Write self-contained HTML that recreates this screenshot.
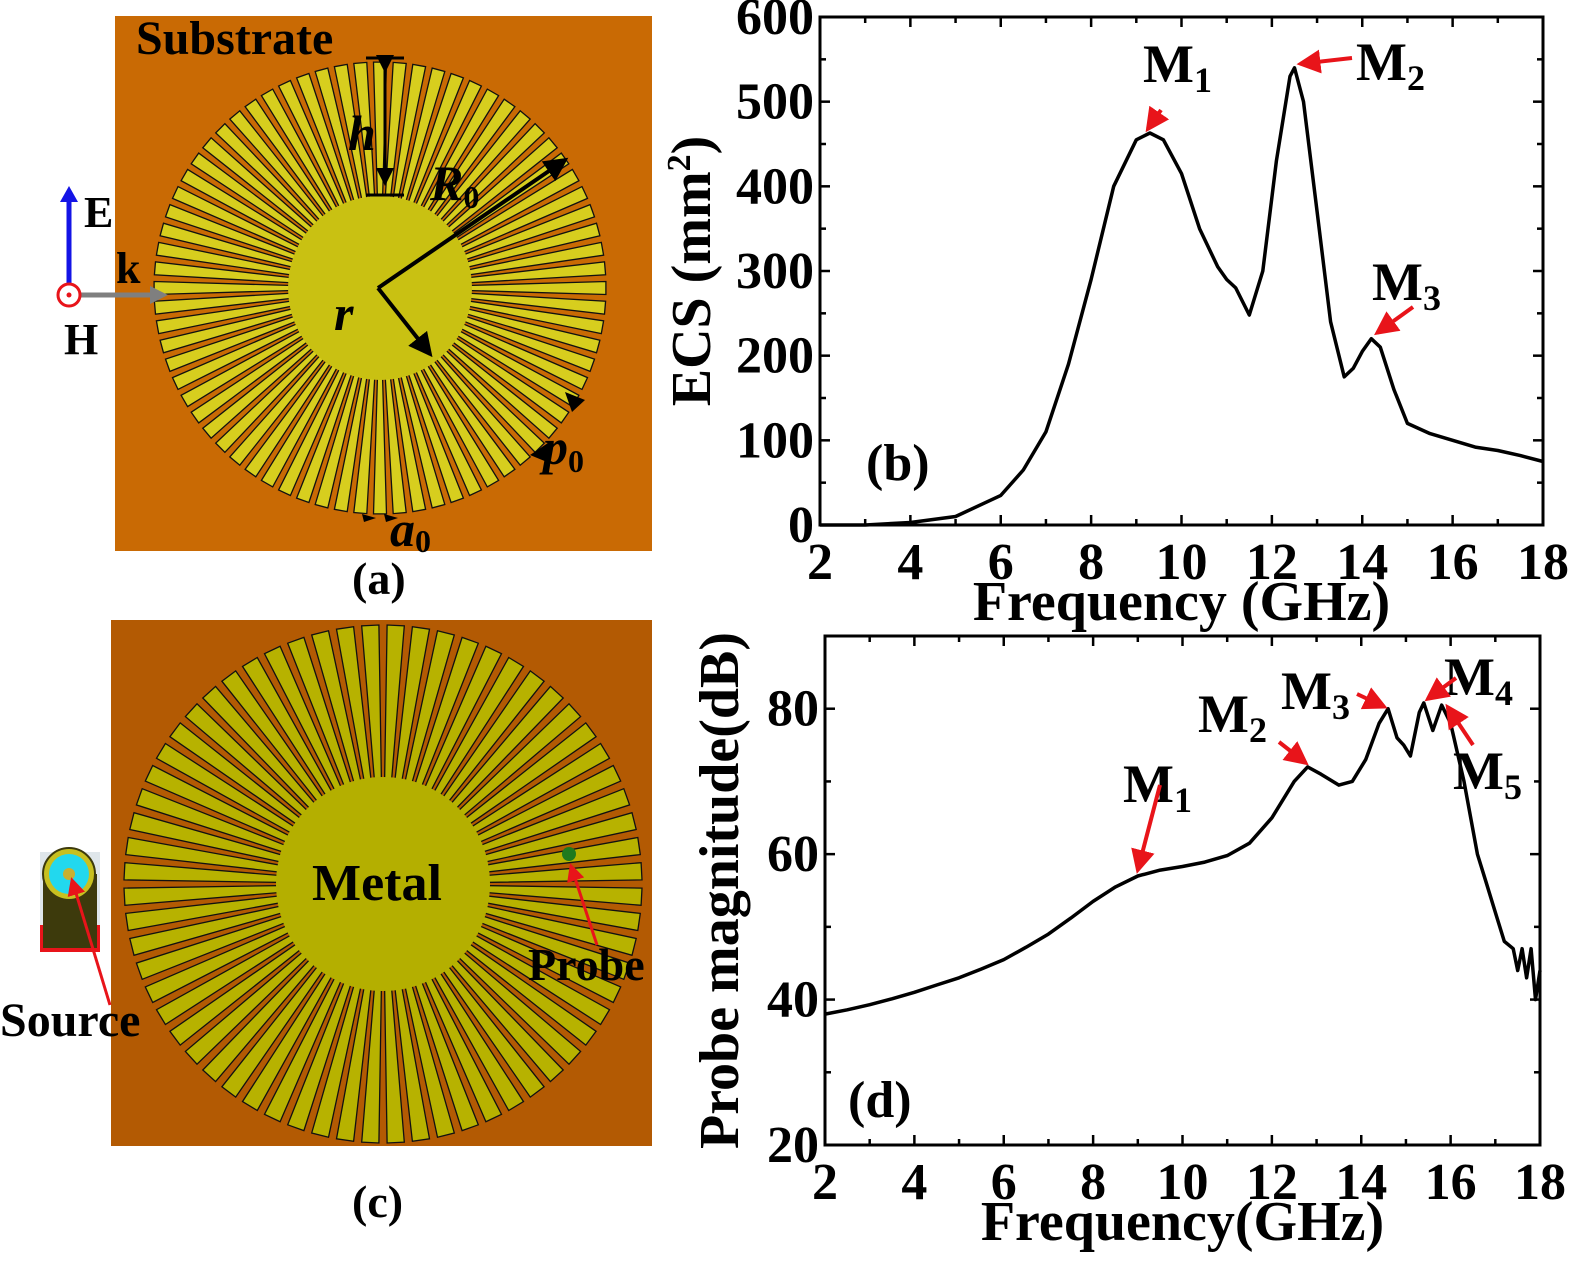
<!DOCTYPE html>
<html><head><meta charset="utf-8"><style>
body{margin:0;background:#fff}
svg text{font-family:"Liberation Serif",serif;font-weight:bold}
</style></head><body>
<svg id="fig" width="1575" height="1257" viewBox="0 0 1575 1257" xmlns="http://www.w3.org/2000/svg">
<defs>
<marker id="ar" markerWidth="6" markerHeight="6" refX="5" refY="3" orient="auto" markerUnits="strokeWidth"><path d="M0,0 L6,3 L0,6 z" fill="#e8141a"/></marker>
<marker id="ab" markerWidth="6" markerHeight="6" refX="5" refY="3" orient="auto" markerUnits="strokeWidth"><path d="M0,0 L6,3 L0,6 z" fill="#000"/></marker>
</defs>
<g id="pa">
<rect x="115" y="16" width="537" height="535" fill="#c96a04"/>
</g>
<g id="pc">
<rect x="111" y="620" width="541" height="526" fill="#b35a03"/>
</g>
<g id="pb"></g>
<g id="pd"></g>
<g id="ann">
<text x="136" y="54" font-size="48">Substrate</text>
<line x1="366" y1="58" x2="404" y2="58" stroke="#000" stroke-width="3"/>
<line x1="366" y1="195" x2="404" y2="195" stroke="#000" stroke-width="3"/>
<line x1="385" y1="70" x2="385" y2="183" stroke="#000" stroke-width="3" marker-start="url(#ab)" marker-end="url(#ab)"/>
<text x="348" y="150" font-size="50" font-style="italic">h</text>
<line x1="378" y1="288" x2="565" y2="160" stroke="#000" stroke-width="4" marker-end="url(#ab)"/>
<text x="430" y="200" font-size="50" font-style="italic">R<tspan font-size="32" dy="8" font-style="normal">0</tspan></text>
<line x1="378" y1="288" x2="430" y2="354" stroke="#000" stroke-width="4" marker-end="url(#ab)"/>
<text x="334" y="330" font-size="50" font-style="italic">r</text>
<path d="M565,392 L585,400 L572,412 z M530,455 L548,443 L547,462 z" fill="#000"/>
<text x="543" y="464" font-size="50" font-style="italic">p<tspan font-size="32" dy="8" font-style="normal">0</tspan></text>
<path d="M362,514 L376,518 L364,522 z M398,518 L384,514 L386,522 z" fill="#000"/>
<text x="390" y="546" font-size="50" font-style="italic">a<tspan font-size="32" dy="6" font-style="normal">0</tspan></text>
<line x1="69" y1="283" x2="69" y2="200" stroke="#1414e6" stroke-width="5"/>
<path d="M60,202 L69,186 L78,202 z" fill="#1414e6"/>
<text x="84" y="227" font-size="44">E</text>
<line x1="80" y1="295" x2="152" y2="295" stroke="#7f7f7f" stroke-width="5"/>
<path d="M150,286 L168,295 L150,304 z" fill="#7f7f7f"/>
<text x="116" y="283" font-size="44">k</text>
<circle cx="69" cy="295" r="11" fill="#fff" stroke="#e8141a" stroke-width="3"/>
<circle cx="69" cy="295" r="2.5" fill="#e8141a"/>
<text x="64" y="354" font-size="44">H</text>
<text x="352" y="594" font-size="46">(a)</text>
<text x="312" y="900" font-size="52">Metal</text>
<circle cx="569" cy="854" r="7" fill="#1e7a1e"/>
<line x1="597" y1="945" x2="571" y2="866" stroke="#e8141a" stroke-width="3" marker-end="url(#ar)"/>
<text x="528" y="980" font-size="46">Probe</text>
<rect x="40" y="852" width="60" height="100" fill="#dfe6ea"/>
<rect x="40" y="925" width="60" height="27" fill="#e8141a"/>
<rect x="43" y="874" width="54" height="74" fill="#3d3a0c"/>
<circle cx="69" cy="874" r="26" fill="#c8c020" stroke="#3d3a0c" stroke-width="2"/>
<circle cx="69" cy="874" r="20" fill="#22d8ee"/>
<circle cx="69" cy="874" r="6" fill="#c8b030"/>
<line x1="110" y1="1005" x2="72" y2="880" stroke="#e8141a" stroke-width="3" marker-end="url(#ar)"/>
<text x="0" y="1036" font-size="48">Source</text>
<text x="352" y="1217" font-size="46">(c)</text>
</g>
</svg>
<script>
// ---- chart (b) data ----
const ecsFreq = [2,3,4,5,6,6.5,7,7.5,8,8.5,9,9.3,9.6,10,10.4,10.8,11,11.2,11.5,11.8,12.1,12.4,12.5,12.7,13,13.3,13.6,13.8,14,14.2,14.4,14.7,15,15.5,16,16.5,17,17.5,18];
const ecsValues = [0,0,3,10,35,65,110,190,290,400,455,463,455,415,350,305,290,280,248,300,430,530,540,500,370,240,175,185,205,220,210,160,120,108,100,92,88,82,75];
const ecsXTicks = [2,4,6,8,10,12,14,16,18];
const ecsYTicks = [0,100,200,300,400,500,600];
// ---- chart (d) data ----
const probeFreq = [2,2.5,3,3.5,4,4.5,5,5.5,6,6.5,7,7.5,8,8.5,9,9.5,10,10.5,11,11.5,12,12.5,12.8,13.1,13.5,13.8,14.1,14.4,14.6,14.8,14.95,15.1,15.3,15.4,15.6,15.8,16,16.3,16.6,16.8,17,17.2,17.4,17.5,17.6,17.7,17.8,17.9,18];
const probeValues = [38,38.6,39.3,40.1,41,42,43,44.2,45.5,47.2,49,51.2,53.5,55.5,57,57.8,58.3,58.9,59.8,61.5,65,70,72,71,69.5,70,73,78,80,76,75,73.5,79.5,80.8,77,80.5,78,70,60,56,52,48,47,44,47,43,47,40,44];
const probeXTicks = [2,4,6,8,10,12,14,16,18];
const probeYTicks = [20,40,60,80];

const NS='http://www.w3.org/2000/svg';
function mk(parent,tag,attrs){const e=document.createElementNS(NS,tag);for(const k in attrs)e.setAttribute(k,attrs[k]);parent.appendChild(e);return e;}

function drawSpokes(gid,cx,cy,R,ri,rc,N,spokeCol,innerCol,frac,offset){
  const g=document.getElementById(gid);
  const half=Math.PI/N*frac;
  for(let i=0;i<N;i++){
    const a=2*Math.PI*i/N+offset;
    const p=[[ri,a-half],[R,a-half],[R,a+half],[ri,a+half]].map(([r,t])=>(cx+r*Math.cos(t)).toFixed(1)+','+(cy+r*Math.sin(t)).toFixed(1)).join(' ');
    const s=mk(g,'polygon',{points:p,fill:spokeCol,stroke:'#111','stroke-width':1.3});
    
    
  }
  const c=mk(g,'circle',{cx:cx,cy:cy,r:rc,fill:innerCol});
  
  
}
drawSpokes('pa',380,288,226,70,92,72,'#d7ce1e','#c9c112',0.66,0);
drawSpokes('pc',383,884,259,85,107,64,'#b7b200','#b4af00',0.68,Math.PI/64);

function chart(gid,cfg){
  const g=document.getElementById(gid);
  const {x0,x1,y0,y1,xmin,xmax,ymin,ymax}=cfg;
  const X=v=>x0+(v-xmin)/(xmax-xmin)*(x1-x0);
  const Y=v=>y0-(v-ymin)/(ymax-ymin)*(y0-y1);
  const frame=mk(g,'rect',{x:x0,y:y1,width:x1-x0,height:y0-y1,fill:'none',stroke:'#000','stroke-width':3});
  
  
  for(let v=xmin;v<=xmax+1e-9;v+=cfg.xminor){
    const maj=Math.abs((v-xmin)/cfg.xmajor-Math.round((v-xmin)/cfg.xmajor))<1e-6;const L=maj?10:6;
    mk(g,'line',{x1:X(v),x2:X(v),y1:y0,y2:y0-L,stroke:'#000','stroke-width':2.5});
    mk(g,'line',{x1:X(v),x2:X(v),y1:y1,y2:y1+L,stroke:'#000','stroke-width':2.5});
  }
  for(let v=ymin;v<=ymax+1e-9;v+=cfg.yminor){
    const maj=Math.abs((v-ymin)/cfg.ymajor-Math.round((v-ymin)/cfg.ymajor))<1e-6;const L=maj?10:6;
    mk(g,'line',{x1:x0,x2:x0+L,y1:Y(v),y2:Y(v),stroke:'#000','stroke-width':2.5});
    mk(g,'line',{x1:x1,x2:x1-L,y1:Y(v),y2:Y(v),stroke:'#000','stroke-width':2.5});
  }
  cfg.xt.forEach(v=>{const t=mk(g,'text',{x:X(v),y:y0+54,'font-size':52,'text-anchor':'middle'});t.textContent=v;
    
    });
  cfg.yt.forEach(v=>{const t=mk(g,'text',{x:x0-6,y:Y(v)+17,'font-size':52,'text-anchor':'end'});t.textContent=v;
    
    });
  const d=cfg.xs.map((v,i)=>(i?'L':'M')+X(v).toFixed(1)+','+Y(cfg.ys[i]).toFixed(1)).join(' ');
  const p=mk(g,'path',{d:d,fill:'none',stroke:'#000','stroke-width':3.5,'stroke-linejoin':'round'});
  
  
  const xt=mk(g,'text',{x:(x0+x1)/2,y:cfg.xtitleY,'font-size':56,'text-anchor':'middle'});xt.textContent=cfg.xtitle;
  
  
  const yt=mk(g,'text',{x:0,y:0,'font-size':56,'text-anchor':'middle',transform:`translate(${cfg.ytitleX},${(y0+y1)/2}) rotate(-90)`});
  yt.innerHTML=cfg.ytitle;
  
  
  const pl=mk(g,'text',{x:cfg.pl[0],y:cfg.pl[1],'font-size':52});pl.textContent=cfg.plabel;
  
  
  cfg.marks.forEach(m=>{
    const t=mk(g,'text',{x:m.tx,y:m.ty,'font-size':54});t.innerHTML=m.n+'<tspan font-size="36" dy="10">'+m.s+'</tspan>';
    
    
    const a=mk(g,'line',{x1:m.a[0],y1:m.a[1],x2:X(m.fx)+m.dx,y2:Y(m.fy)+m.dy,stroke:'#e8141a','stroke-width':4,'marker-end':'url(#ar)'});
    
    
  });
}
chart('pb',{x0:820,x1:1543,y0:525,y1:17,xmin:2,xmax:18,ymin:0,ymax:600,xminor:1,xmajor:2,yminor:50,ymajor:100,
  xt:ecsXTicks,yt:ecsYTicks,xs:ecsFreq,ys:ecsValues,xtitle:'Frequency (GHz)',xtitleY:620,ytitleX:710,
  ytitle:'ECS (mm<tspan font-size="34" dy="-20">2</tspan><tspan dy="20">)</tspan>',plabel:'(b)',pl:[866,480],
  marks:[{n:'M',s:'1',tx:1143,ty:82,a:[1161,110],fx:9.3,fy:463,dx:-2,dy:-4},
         {n:'M',s:'2',tx:1356,ty:80,a:[1352,58],fx:12.5,fy:540,dx:6,dy:-4},
         {n:'M',s:'3',tx:1372,ty:300,a:[1413,307],fx:14.2,fy:220,dx:6,dy:-6}]});
chart('pd',{x0:825,x1:1540,y0:1145,y1:636,xmin:2,xmax:18,ymin:20,ymax:90,xminor:1,xmajor:2,yminor:10,ymajor:20,
  xt:probeXTicks,yt:probeYTicks,xs:probeFreq,ys:probeValues,xtitle:'Frequency(GHz)',xtitleY:1240,ytitleX:738,
  ytitle:'Probe magnitude(dB)',plabel:'(d)',pl:[848,1117],
  marks:[{n:'M',s:'1',tx:1123,ty:802,a:[1160,785],fx:9,fy:57,dx:0,dy:-6},
         {n:'M',s:'2',tx:1198,ty:732,a:[1279,742],fx:12.8,fy:72,dx:-2,dy:-4},
         {n:'M',s:'3',tx:1281,ty:709,a:[1357,694],fx:14.6,fy:80,dx:-4,dy:-2},
         {n:'M',s:'4',tx:1444,ty:695,a:[1456,678],fx:15.4,fy:80.8,dx:4,dy:-4},
         {n:'M',s:'5',tx:1453,ty:789,a:[1473,745],fx:15.8,fy:80.5,dx:6,dy:2}]});
</script>
</body></html>
